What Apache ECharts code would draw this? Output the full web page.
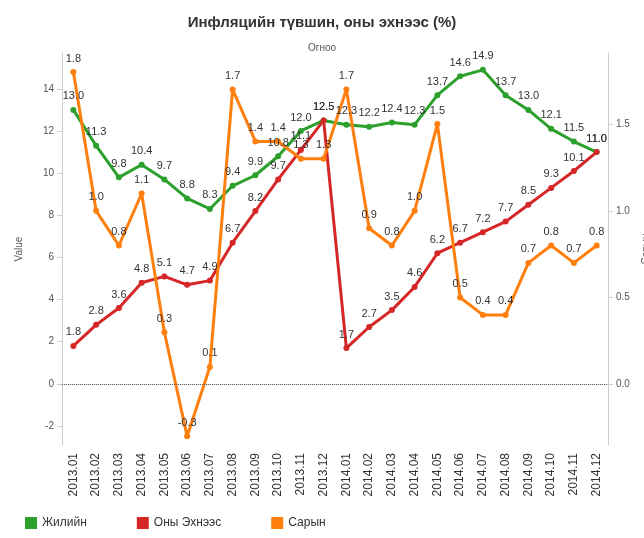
<!DOCTYPE html>
<html><head><meta charset="utf-8">
<script src="https://cdn.jsdelivr.net/npm/echarts@6/dist/echarts.min.js"></script>
<style>html,body{margin:0;padding:0;background:#fff}#c{width:644px;height:538px}</style>
</head><body><div id="c"></div>
<script>
const months = ['2013.01','2013.02','2013.03','2013.04','2013.05','2013.06','2013.07','2013.08','2013.09','2013.10','2013.11','2013.12',
  '2014.01','2014.02','2014.03','2014.04','2014.05','2014.06','2014.07','2014.08','2014.09','2014.10','2014.11','2014.12'];
const yearly = [13.0,11.3,9.8,10.4,9.7,8.8,8.3,9.4,9.9,10.8,12.0,12.5,12.3,12.2,12.4,12.3,13.7,14.6,14.9,13.7,13.0,12.1,11.5,11.0];
const ytd = [1.8,2.8,3.6,4.8,5.1,4.7,4.9,6.7,8.2,9.7,11.1,12.5,1.7,2.7,3.5,4.6,6.2,6.7,7.2,7.7,8.5,9.3,10.1,11.0];
const monthly = [1.8,1.0,0.8,1.1,0.3,-0.3,0.1,1.7,1.4,1.4,1.3,1.3,1.7,0.9,0.8,1.0,1.5,0.5,0.4,0.4,0.7,0.8,0.7,0.8];
const leftTicks = [-2,0,2,4,6,8,10,12,14];
const rightTicks = [0,0.5,1,1.5];

const chart = echarts.init(document.getElementById('c'));
const lbl = {show: true, fontSize: 11, color: '#333', formatter: p => p.value.toFixed(1)};
function line(name, data, color, yAxisIndex) {
  return {
    name, type: 'line', data, yAxisIndex, color, animation: false,
    symbol: 'circle', symbolSize: 6, lineStyle: {width: 3},
    label: lbl
  };
}
chart.setOption({
  title: [
    {text: 'Инфляцийн түвшин, оны эхнээс (%)', left: 'center', top: 10,
      textStyle: {fontSize: 15, fontWeight: 'bold', color: '#333'}},
    {text: 'Огноо', left: 'center', top: 38, textStyle: {fontSize: 10, fontWeight: 'normal', color: '#555'}}
  ],
  legend: {
    bottom: 4, left: 20, icon: 'rect', itemWidth: 12, itemHeight: 12, itemGap: 50,
    textStyle: {fontSize: 12, color: '#333'},
    data: ['Жилийн', 'Оны Эхнээс', 'Сарын']
  },
  grid: {left: 62, right: 36, top: 53, bottom: 93, outerBoundsMode: 'none', containLabel: false},
  xAxis: [{
    type: 'category', data: months, boundaryGap: true,
    axisLabel: {rotate: 90, fontSize: 12, color: '#333', interval: 0},
    axisLine: {lineStyle: {color: '#ccc'}}, axisTick: {show: false},
    splitLine: {show: false}
  }, {
    type: 'category', data: months, position: 'top', axisLabel: {show: false},
    axisTick: {show: false}, axisLine: {show: true, lineStyle: {color: '#ddd'}}
  }],
  yAxis: [
    {type: 'value', min: -2.9, max: 15.7, name: 'Value', nameLocation: 'middle', nameGap: 38,
      nameTextStyle: {fontSize: 10, color: '#555'},
      axisLabel: {customValues: leftTicks, fontSize: 10, color: '#555'},
      axisTick: {show: true, customValues: leftTicks, lineStyle: {color: '#ccc'}},
      axisLine: {show: true, lineStyle: {color: '#ccc'}},
      splitLine: {show: false}},
    {type: 'value', min: -0.35, max: 1.91, name: 'Сарын', nameLocation: 'middle', nameGap: 20,
      nameTextStyle: {fontSize: 10, color: '#555'},
      axisLabel: {customValues: rightTicks, fontSize: 10, color: '#555', formatter: v => v.toFixed(1)},
      axisTick: {show: true, customValues: rightTicks, lineStyle: {color: '#ccc'}},
      axisLine: {show: true, lineStyle: {color: '#ccc'}},
      splitLine: {show: false}}
  ],
  series: [
    Object.assign(line('Жилийн', yearly, '#2ca02c', 0), {
      markLine: {silent: true, symbol: 'none', label: {show: false},
        lineStyle: {type: 'dotted', color: '#666', width: 1}, data: [{yAxis: 0}]}
    }),
    line('Оны Эхнээс', ytd, '#d62728', 0),
    line('Сарын', monthly, '#ff7f0e', 1)
  ]
});
</script></body></html>
